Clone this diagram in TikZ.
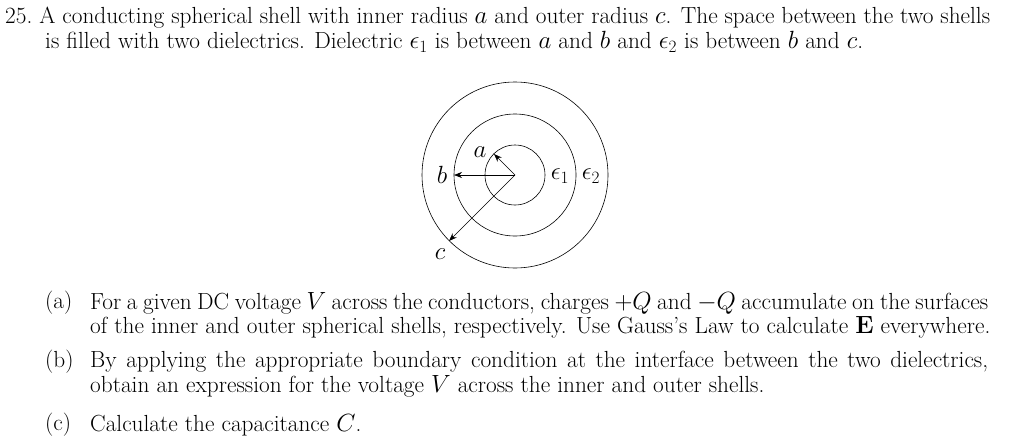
\documentclass[tikz,border=0pt]{standalone}
\usetikzlibrary{arrows.meta}
\begin{document}
\begin{tikzpicture}[x=1pt,y=-1pt,
  txt/.style={anchor=west,inner sep=0pt,font=\fontsize{23.3}{28}\selectfont},
  lbl/.style={inner sep=0pt,font=\fontsize{23.3}{28}\selectfont},
  arr/.style={-{Stealth[length=8pt,width=6pt]},semithick}]
\useasboundingbox (0,0) rectangle (1024,447);
\node[txt] (l1) at (5,18) {\makebox[985pt][s]{25.\ A conducting spherical shell with inner radius $a$ and outer radius $c$. The space between the two shells}};
\node[txt] (l2) at (45,42) {is filled with two dielectrics. Dielectric $\epsilon_1$ is between $a$ and $b$ and $\epsilon_2$ is between $b$ and $c$.};
\coordinate (o) at (515,175);
\draw[semithick] (o) circle (30) (o) circle (61) (o) circle (93);
\coordinate (pa) at (494,154);
\coordinate (pb) at (454,175);
\coordinate (pc) at (449,241);
\draw[arr] (o) -- (pa);
\draw[arr] (o) -- (pb);
\draw[arr] (o) -- (pc);
\node[lbl] (la) at (480,152) {$a$};
\node[lbl] (lb) at (442,175) {$b$};
\node[lbl] (le1) at (560,176) {$\epsilon_1$};
\node[lbl] (le2) at (591,176) {$\epsilon_2$};
\node[lbl] (lc) at (440,254) {$c$};
\node[txt] (pa1) at (45,303) {(a)};
\node[txt] (a1) at (90,303) {\makebox[898pt][s]{For a given DC voltage $V$ across the conductors, charges $+Q$ and $-Q$ accumulate on the surfaces}};
\node[txt] (a2) at (90,327) {of the inner and outer spherical shells, respectively. Use Gauss's Law to calculate $\mathbf{E}$ everywhere.};
\node[txt] (pb1) at (45,362) {(b)};
\node[txt] (b1) at (90,362) {\makebox[898pt][s]{By applying the appropriate boundary condition at the interface between the two dielectrics,}};
\node[txt] (b2) at (90,386) {obtain an expression for the voltage $V$ across the inner and outer shells.};
\node[txt] (pc1) at (45,425) {(c)};
\node[txt] (c1) at (90,425) {Calculate the capacitance $C$.};
\end{tikzpicture}
\end{document}
